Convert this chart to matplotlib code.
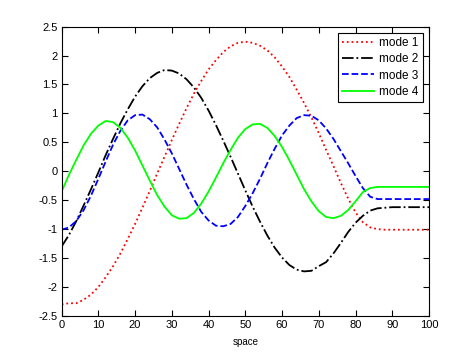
import numpy as np
import matplotlib
matplotlib.use('Agg')
import matplotlib.pyplot as plt

# sample positions along "space"
space = np.arange(0, 101, 2)

# mode shapes
mode1 = [-2.30, -2.28, -2.28, -2.22, -2.13, -2.00, -1.83, -1.64, -1.42, -1.17,
         -0.91, -0.63, -0.34, -0.04, 0.25, 0.54, 0.82, 1.09, 1.34, 1.56,
         1.76, 1.92, 2.06, 2.16, 2.22, 2.24, 2.22, 2.17, 2.09, 1.97,
         1.81, 1.63, 1.41, 1.18, 0.93, 0.66, 0.37, 0.09, -0.20, -0.47,
         -0.71, -0.88, -0.97, -1.00, -1.01, -1.01, -1.01, -1.01, -1.01, -1.01,
         -1.01]
mode2 = [-1.30, -1.10, -0.86, -0.59, -0.31, -0.02, 0.28, 0.56, 0.83, 1.07,
         1.29, 1.47, 1.61, 1.70, 1.75, 1.74, 1.69, 1.59, 1.45, 1.27,
         1.05, 0.80, 0.53, 0.25, -0.04, -0.33, -0.61, -0.87, -1.11, -1.32,
         -1.49, -1.62, -1.70, -1.73, -1.72, -1.64, -1.57, -1.42, -1.24, -1.05,
         -0.89, -0.77, -0.68, -0.64, -0.63, -0.62, -0.62, -0.62, -0.62, -0.62,
         -0.62]
mode3 = [-1.01, -0.97, -0.86, -0.67, -0.42, -0.13, 0.17, 0.46, 0.70, 0.88,
         0.97, 0.98, 0.90, 0.76, 0.55, 0.31, 0.04, -0.23, -0.48, -0.70,
         -0.85, -0.94, -0.95, -0.91, -0.79, -0.60, -0.38, -0.13, 0.14, 0.39,
         0.62, 0.79, 0.92, 0.97, 0.96, 0.88, 0.74, 0.56, 0.35, 0.14,
         -0.08, -0.29, -0.44, -0.48, -0.48, -0.48, -0.48, -0.48, -0.48, -0.48,
         -0.48]
mode4 = [-0.35, -0.06, 0.20, 0.45, 0.65, 0.79, 0.87, 0.85, 0.75, 0.58,
         0.36, 0.10, -0.16, -0.41, -0.61, -0.76, -0.82, -0.81, -0.72, -0.56,
         -0.35, -0.11, 0.14, 0.37, 0.58, 0.73, 0.81, 0.82, 0.75, 0.61,
         0.42, 0.19, -0.06, -0.31, -0.52, -0.69, -0.79, -0.81, -0.77, -0.67,
         -0.52, -0.36, -0.29, -0.27, -0.27, -0.27, -0.27, -0.27, -0.27, -0.27,
         -0.27]

plt.rcParams['font.family'] = ['Liberation Sans', 'DejaVu Sans']

fig = plt.figure(figsize=(4.74, 3.55), dpi=100)
ax = fig.add_axes([0.13, 0.11, 0.775, 0.815])

ax.plot(space, mode1, ':', color='#ff0000', lw=1.3, label='mode 1')
ax.plot(space, mode2, '-.', color='black', lw=1.3, label='mode 2')
ax.plot(space, mode3, '--', color='#0000ff', lw=1.3, label='mode 3')
ax.plot(space, mode4, '-', color='#00ff00', lw=1.3, label='mode 4')

ax.set_xlim(0, 100)
ax.set_ylim(-2.5, 2.5)
ax.set_xticks(np.arange(0, 101, 10))
ax.set_yticks(np.arange(-2.5, 2.6, 0.5))
ax.set_yticklabels(['-2.5', '-2', '-1.5', '-1', '-0.5', '0', '0.5', '1', '1.5', '2', '2.5'])
ax.tick_params(direction='in', top=True, right=True, labelsize=8, length=4, pad=3)
ax.set_xlabel('space', fontsize=7, labelpad=5)

leg = ax.legend(loc='upper right', fontsize=8.5, fancybox=False, edgecolor='black',
                framealpha=1, handlelength=2.7, handletextpad=0.4,
                borderaxespad=0.5, labelspacing=0.35, borderpad=0.4)
leg.get_frame().set_linewidth(0.8)

fig.savefig('out.png', dpi=100)
